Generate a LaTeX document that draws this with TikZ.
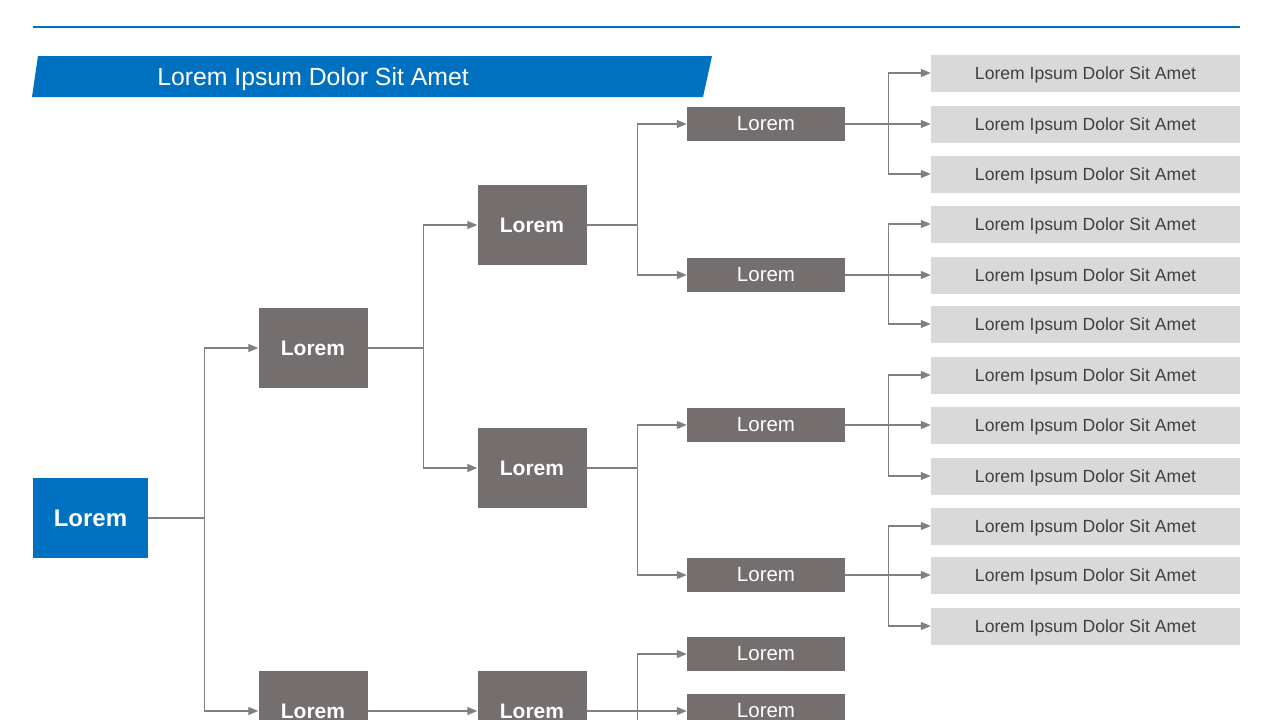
\documentclass[tikz,border=0pt]{standalone}
\usepackage{fontspec}
\setmainfont{Liberation Sans}
\usetikzlibrary{arrows.meta}
\definecolor{mainblue}{RGB}{0,112,192}
\definecolor{boxgray}{RGB}{116,110,110}
\definecolor{leafgray}{RGB}{217,217,217}
\definecolor{linegray}{RGB}{128,128,128}
\definecolor{textgray}{RGB}{64,64,64}

\begin{document}
\begin{tikzpicture}[
x=1pt, y=-1pt,
rootbox/.style={fill=mainblue, text=white, font=\bfseries\fontsize{24}{28}\selectfont, minimum width=115pt, minimum height=80pt, inner sep=0pt},
midbox/.style={fill=boxgray, text=white, font=\bfseries\fontsize{21}{25}\selectfont, minimum width=109pt, minimum height=80pt, inner sep=0pt},
smallbox/.style={fill=boxgray, text=white, font=\fontsize{20.5}{24}\selectfont, minimum width=158pt, minimum height=34pt, inner sep=0pt},
leaf/.style={fill=leafgray, text=textgray, font=\fontsize{17.6}{21}\selectfont, minimum width=309pt, minimum height=37pt, inner sep=0pt, text depth=0pt},
arr/.style={draw=linegray, line width=1.2pt, -{Triangle[length=10pt,width=8pt]}},
link/.style={draw=linegray, line width=1.2pt}
]
    \useasboundingbox (0,0) rectangle (1280,720);
    \clip (0,0) rectangle (1280,720);

    % Header
    \draw[mainblue, line width=1.2pt] (33,27) -- (1240,27);
    \fill[mainblue] (38,56) -- (712,56) -- (703,97) -- (32,97) -- cycle;
    \node[text=white, font=\fontsize{24.8}{29}\selectfont, text depth=0pt] (banner) at (313,77) {Lorem Ipsum Dolor Sit Amet};

    % Boxes
    \node[rootbox] (root) at (90.5,518) {Lorem};

    \node[midbox] (b1) at (313,348) {Lorem};
    \node[midbox] (b2) at (313,711) {Lorem};

    \node[midbox] (c1) at (532,225) {Lorem};
    \node[midbox] (c2) at (532,468) {Lorem};
    \node[midbox] (c3) at (532,711) {Lorem};

    \node[smallbox] (d1) at (766,124) {Lorem};
    \node[smallbox] (d2) at (766,275) {Lorem};
    \node[smallbox] (d3) at (766,425) {Lorem};
    \node[smallbox] (d4) at (766,575) {Lorem};
    \node[smallbox] (d5) at (766,654) {Lorem};
    \node[smallbox] (d6) at (766,711) {Lorem};

    \foreach \i/\y in {1/73,2/124,3/174,4/224,5/275,6/324,7/375,8/425,9/476,10/526,11/575,12/626}
        \node[leaf] (leaf\i) at (1085.5,\y) {Lorem Ipsum Dolor Sit Amet};

    \coordinate (c3low) at (637,730);

    % Connectors
    \draw[arr] (root.east) -- +(56,0) |- (b1.west);
    \draw[arr] (root.east) -- +(56,0) |- (b2.west);

    \draw[arr] (b1.east) -- +(56,0) |- (c1.west);
    \draw[arr] (b1.east) -- +(56,0) |- (c2.west);
    \draw[arr] (b2.east) -- (c3.west);

    \draw[arr] (c1.east) -- +(51,0) |- (d1.west);
    \draw[arr] (c1.east) -- +(51,0) |- (d2.west);
    \draw[arr] (c2.east) -- +(51,0) |- (d3.west);
    \draw[arr] (c2.east) -- +(51,0) |- (d4.west);
    \draw[arr] (c3.east) -- +(51,0) |- (d5.west);
    \draw[arr] (c3.east) -- (d6.west);
    \draw[link] (c3.east) -- +(51,0) |- (c3low);

    \draw[arr] (d1.east) -- +(43,0) |- (leaf1.west);
    \draw[arr] (d1.east) -- (leaf2.west);
    \draw[arr] (d1.east) -- +(43,0) |- (leaf3.west);
    \draw[arr] (d2.east) -- +(43,0) |- (leaf4.west);
    \draw[arr] (d2.east) -- (leaf5.west);
    \draw[arr] (d2.east) -- +(43,0) |- (leaf6.west);
    \draw[arr] (d3.east) -- +(43,0) |- (leaf7.west);
    \draw[arr] (d3.east) -- (leaf8.west);
    \draw[arr] (d3.east) -- +(43,0) |- (leaf9.west);
    \draw[arr] (d4.east) -- +(43,0) |- (leaf10.west);
    \draw[arr] (d4.east) -- (leaf11.west);
    \draw[arr] (d4.east) -- +(43,0) |- (leaf12.west);

\end{tikzpicture}
\end{document}
